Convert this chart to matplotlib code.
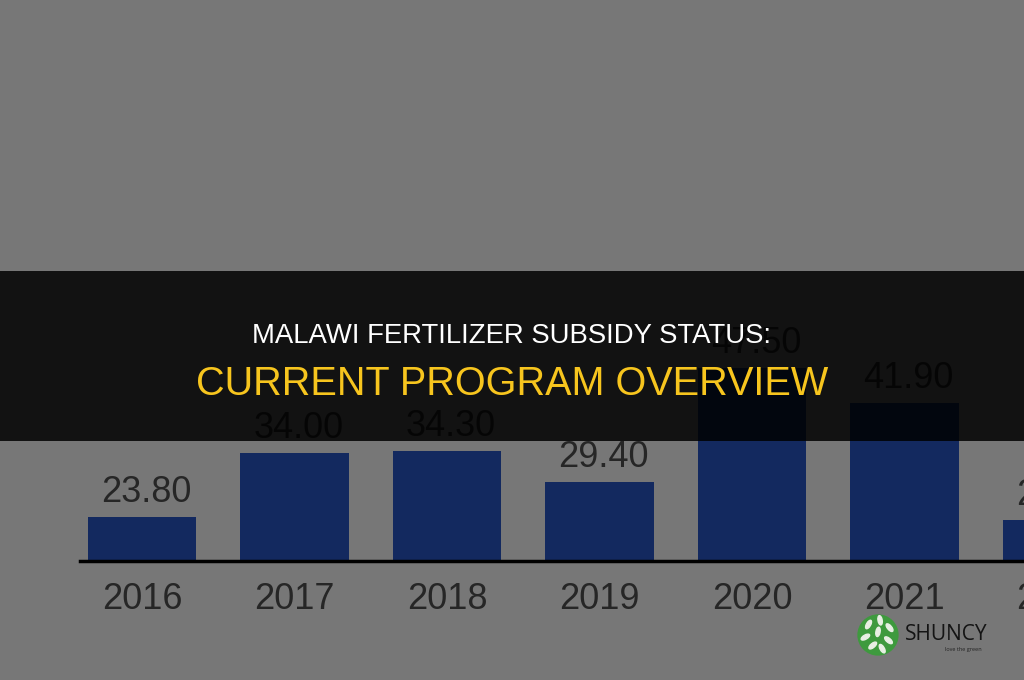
import matplotlib
matplotlib.use("Agg")
import matplotlib.pyplot as plt
from matplotlib.patches import Rectangle, Circle, Ellipse

years = ["2016", "2017", "2018", "2019", "2020", "2021", "2022"]
values = [23.80, 34.00, 34.30, 29.40, 47.50, 41.90, 23.30]
value_labels = ["23.80", "34.00", "34.30", "29.40", "47.50", "41.90", "23.30"]
title_line1 = "MALAWI FERTILIZER SUBSIDY STATUS:"
title_line2 = "CURRENT PROGRAM OVERVIEW"

W, H = 1024, 680
BG = "#777777"
BAR = "#13295f"
TXT = "#262626"

fig = plt.figure(figsize=(W / 100, H / 100), dpi=100, facecolor=BG)

base_px = 561
ax = fig.add_axes([0, (H - base_px) / H, 1, base_px / H])
ax.set_facecolor(BG)
px_per_unit = 6.27
ymin = 16.75
step = 152.5
c0 = 142
x = list(range(len(years)))
ax.bar(x, values, width=0.71, color=BAR, zorder=2)
for xi, v, lab in zip(x, values, value_labels):
    ax.annotate(lab, (xi, v), xytext=(3, 5), textcoords="offset points",
                ha="center", va="bottom", fontsize=26, color=TXT,
                family="Liberation Sans", annotation_clip=False, clip_on=False)
for s in ["top", "left", "right"]:
    ax.spines[s].set_visible(False)
ax.spines["bottom"].set_linewidth(2.5)
ax.spines["bottom"].set_color("#000000")
ax.spines["bottom"].set_bounds((80 - c0) / step, 8)
ax.set_yticks([])
ax.set_xticks([])
# year labels under the baseline (the last one runs off the right edge)
for xi, yr in zip(x, years):
    ax.annotate(yr, (xi, ymin), xytext=(0, -15), textcoords="offset points",
                ha="center", va="top", fontsize=26, color=TXT,
                family="Liberation Sans", annotation_clip=False, clip_on=False)
ax.set_xlim(-c0 / step, (W - c0) / step)
ax.set_ylim(ymin, ymin + base_px / px_per_unit)

# dark banner
fig.patches.append(Rectangle((0, (H - 441) / H), 1, 170 / H, transform=fig.transFigure,
                             facecolor="#000000", alpha=0.85, zorder=5, edgecolor="none"))
fig.text(0.5, (H - 336) / H, title_line1, ha="center", va="center", color="white",
         fontsize=19.8, family="Liberation Sans", zorder=6)
fig.text(0.5, (H - 384) / H, title_line2, ha="center", va="center", color="#f7c51e",
         fontsize=28.5, family="Liberation Sans", zorder=6)

# logo
lax = fig.add_axes([857 / W, (H - 656) / H, 42 / W, 42 / H])
lax.set_xlim(-1, 1)
lax.set_ylim(-1, 1)
lax.set_aspect("equal")
lax.axis("off")
lax.add_patch(Circle((0, 0), 0.95, color="#3e9a3e"))
for (ex, ey, ang) in [(-0.45, 0.5, 60), (0.1, 0.7, 100), (0.55, 0.35, 130), (-0.6, -0.1, 30),
                      (0.0, 0.15, 80), (0.5, -0.25, 140), (-0.25, -0.5, 40), (0.2, -0.65, 120)]:
    lax.add_patch(Ellipse((ex, ey), 0.45, 0.2, angle=ang, color="#e8efe4"))
fig.text(905 / W, (H - 634) / H, "SHUNCY", ha="left", va="center", color="#141414",
         fontsize=15, family="Open Sans")
fig.text(945 / W, (H - 650) / H, "love the green", ha="left", va="center", color="#222222",
         fontsize=4, family="Open Sans")

fig.savefig("out.png", dpi=100, facecolor=BG)
